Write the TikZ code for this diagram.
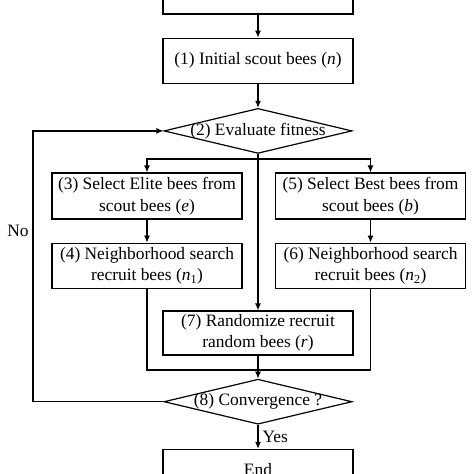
\documentclass[tikz,border=0pt]{standalone}
\usepackage{fontspec}
\setmainfont{Liberation Serif}
\usepackage{tikz}
\usetikzlibrary{arrows.meta,positioning,shapes.geometric}

\begin{document}
\begin{tikzpicture}[
  x=1pt, y=-1pt,
  font=\fontsize{17.4}{21.5}\selectfont,
  node distance=23pt and 33pt,
  proc/.style={draw, line width=1.2pt, align=center, minimum width=190pt, minimum height=45pt, inner sep=2pt},
  dia/.style={draw, diamond, line width=1.2pt, minimum width=188pt, minimum height=45pt, inner sep=0pt},
  arrow/.style={-{Latex[length=7pt,width=6pt]}, line width=1.2pt},
  line/.style={line width=1.2pt}
]
\useasboundingbox (0,0) rectangle (474,474);
\node[proc] (start) at (258,-8.5) {};
\node[proc, below=of start] (init) {(1) Initial scout bees (\textit{n})};
\node[dia, below=24pt of init, label=center:{(2) Evaluate fitness}] (eval) {};
\node[proc, minimum height=46pt] (elite) at (147,196) {(3) Select Elite bees from\\scout bees (\textit{e})};
\node[proc, minimum height=46pt] (best) at (370.5,196) {(5) Select Best bees from\\scout bees (\textit{b})};
\node[proc, below=of elite] (nbrE) {(4) Neighborhood search\\recruit bees (\textit{n}\textsubscript{1})};
\node[proc, below=of best] (nbrB) {(6) Neighborhood search\\recruit bees (\textit{n}\textsubscript{2})};
\node[proc, minimum height=44pt] (random) at (258,333) {(7) Randomize recruit\\random bees (\textit{r})};
\node[dia, below=of random, label=center:{(8) Convergence ?}] (conv) {};
\node[proc, below=24pt of conv, minimum height=40pt] (end) {End};
\node (no) at (18,231) {No};

\coordinate (split) at (eval.south |- 0,159);
\coordinate (join) at (random.south |- 0,370);
\coordinate (fb) at (33,0 |- conv.west);

\draw[arrow] (start) -- (init);
\draw[arrow] (init) -- (eval);
\draw[line] (eval.south) -- (split);
\draw[arrow] (split) -| (elite.north);
\draw[arrow] (split) -| (best.north);
\draw[arrow] (split) -- (random.north);
\draw[arrow] (elite) -- (nbrE);
\draw[arrow] (best) -- (nbrB);
\draw[line] (nbrE.south) |- (join) -| (nbrB.south);
\draw[arrow] (random.south) -- (conv.north);
\draw[arrow] (conv.west) -- (fb) |- (eval.west);
\draw[arrow] (conv.south) -- node[right, inner sep=4pt] {Yes} (end.north);
\end{tikzpicture}
\end{document}
